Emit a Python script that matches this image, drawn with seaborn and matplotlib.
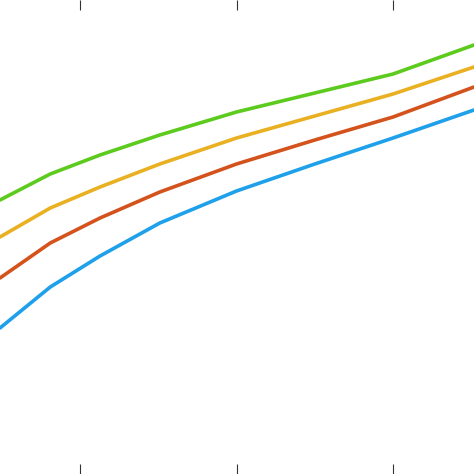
import matplotlib
matplotlib.use("Agg")
import matplotlib.pyplot as plt
import seaborn as sns
import pandas as pd

x = [0.489, 0.81, 1.128, 1.51, 2.0, 2.5, 3.0, 3.517]
green = [274, 300, 319, 339, 362, 381, 400, 429]
yellow = [237, 266, 287, 310, 336, 358, 380, 407]
red = [196, 231, 256, 282, 310, 334, 357, 387]
blue = [146, 187, 218, 251, 283, 310, 336, 364]
names = ["blue", "red", "yellow", "green"]
colors = ["#1EA0EA", "#D4521C", "#E9B022", "#5DCB1E"]

rows = []
for n, ys in zip(names, [blue, red, yellow, green]):
    for xi, yi in zip(x, ys):
        rows.append({"x": xi, "y": yi, "s": n})
df = pd.DataFrame(rows)

sns.set_style("white")
fig = plt.figure(figsize=(4.74, 4.74), dpi=100)
ax = fig.add_axes([0, 0, 1, 1])
sns.lineplot(data=df, x="x", y="y", hue="s", palette=dict(zip(names, colors)),
             linewidth=2.6, legend=False, ax=ax)
ax.set_xlim(0.489, 3.517)
ax.set_ylim(0, 474)
ax.set_xticks([1, 2, 3])
ax.set_yticks([])
ax.tick_params(axis="x", direction="in", length=7, width=0.8, top=True, bottom=True,
               labelbottom=False, color="#333333")
for s in ax.spines.values():
    s.set_visible(False)
ax.set_xlabel("")
ax.set_ylabel("")
fig.savefig("out.png", dpi=100)
